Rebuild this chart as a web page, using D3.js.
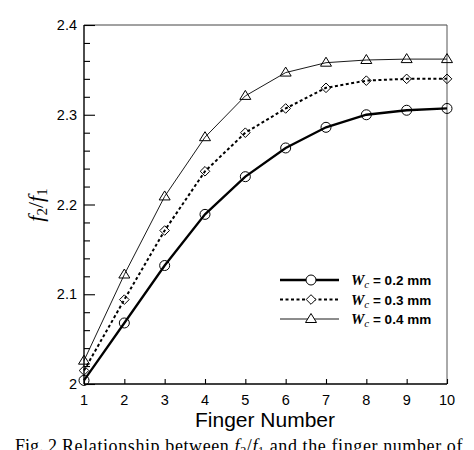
<!DOCTYPE html>
<html><head><meta charset="utf-8">
<script src="https://cdn.jsdelivr.net/npm/d3@7"></script>
<style>body{margin:0;background:#fff}svg{display:block}</style>
</head><body>
<svg id="c" width="474" height="450"></svg>
<script>
const fingers = [1,2,3,4,5,6,7,8,9,10];
const w02 = [2.004,2.068,2.132,2.189,2.231,2.263,2.286,2.300,2.305,2.307];
const w03 = [2.015,2.094,2.171,2.237,2.280,2.307,2.330,2.338,2.340,2.340];
const w04 = [2.026,2.122,2.209,2.275,2.321,2.347,2.358,2.361,2.362,2.362];
const seriesLabels = ["0.2 mm","0.3 mm","0.4 mm"];
const yTicks = [2,2.1,2.2,2.3,2.4];
const xTicks = [1,2,3,4,5,6,7,8,9,10];

const svg = d3.select("#c");
const x = d3.scaleLinear().domain([1,10]).range([84,447]);
const y = d3.scaleLinear().domain([2,2.4]).range([384,25]);

const styles = [
  {data:w02, width:2.3, dash:null, marker:"circle"},
  {data:w03, width:2, dash:"3,2.5", marker:"diamond"},
  {data:w04, width:0.9, dash:null, marker:"triangle"}
];

// frame (top/right)
svg.append("line").attr("x1",x(1)).attr("x2",x(10)).attr("y1",y(2.4)).attr("y2",y(2.4)).attr("stroke","#444").attr("stroke-width",1);
svg.append("line").attr("x1",x(10)).attr("x2",x(10)).attr("y1",y(2.4)).attr("y2",y(2)).attr("stroke","#555").attr("stroke-width",1);

// y axis
const yMinor = d3.range(2,2.4001,0.02).filter(v=>Math.abs(Math.round(v*10)-v*10)>1e-6);
const yAx = svg.append("g").attr("transform",`translate(${x(1)},0)`);
yAx.call(d3.axisRight(y).tickValues(yMinor).tickSize(6).tickFormat(""));
yAx.append("g").call(d3.axisRight(y).tickValues(yTicks).tickSize(11).tickFormat(""));
yAx.selectAll("path").remove();
yAx.selectAll("line").attr("stroke","#000").attr("stroke-width",1.1);
svg.append("line").attr("x1",x(1)).attr("x2",x(1)).attr("y1",y(2.4)).attr("y2",y(2)).attr("stroke","#000").attr("stroke-width",1.4);
svg.append("g").selectAll("text").data(yTicks).join("text")
  .attr("x",77).attr("y",d=>y(d)+5).attr("text-anchor","end")
  .attr("font-family","Liberation Sans, Arial, sans-serif").attr("font-size",14.5)
  .text(d=>d3.format("")(d));

// x axis
const xAx = svg.append("g").attr("transform",`translate(0,${y(2)})`);
xAx.call(d3.axisTop(x).tickValues(xTicks).tickSize(5).tickFormat(""));
xAx.selectAll("path").remove();
xAx.selectAll("line").attr("stroke","#000").attr("stroke-width",1.1);
svg.append("line").attr("x1",x(1)).attr("x2",x(10)).attr("y1",y(2)).attr("y2",y(2)).attr("stroke","#000").attr("stroke-width",1.4);
svg.append("g").selectAll("text").data(xTicks).join("text")
  .attr("x",d=>x(d)).attr("y",405).attr("text-anchor","middle")
  .attr("font-family","Liberation Sans, Arial, sans-serif").attr("font-size",14.5)
  .text(d=>d);

// axis titles
svg.append("text").attr("x",265).attr("y",427).attr("text-anchor","middle")
  .attr("font-family","Liberation Sans, Arial, sans-serif").attr("font-size",21)
  .text("Finger Number");

const yl = svg.append("text").attr("transform","translate(43,205) rotate(-90)")
  .attr("text-anchor","middle").attr("font-family","Liberation Serif, Times New Roman, serif").attr("font-size",22);
yl.append("tspan").attr("font-style","italic").text("f");
yl.append("tspan").attr("font-size",15).attr("dy",4).text("2");
yl.append("tspan").attr("dy",-4).text("/");
yl.append("tspan").attr("font-style","italic").text("f");
yl.append("tspan").attr("font-size",15).attr("dy",4).text("1");

// markers
function marker(g, type, cx, cy){
  if(type==="circle") g.append("circle").attr("cx",cx).attr("cy",cy).attr("r",5);
  else if(type==="diamond") g.append("path").attr("d",`M${cx},${cy-4.8}L${cx+4.8},${cy}L${cx},${cy+4.8}L${cx-4.8},${cy}Z`);
  else g.append("path").attr("d",`M${cx},${cy-5.5}L${cx+5.5},${cy+3.5}L${cx-5.5},${cy+3.5}Z`);
}

const line = d3.line().x((d,i)=>x(fingers[i])).y(d=>y(d));
styles.forEach(s=>{
  svg.append("path").datum(s.data).attr("d",line).attr("fill","none")
    .attr("stroke","#000").attr("stroke-width",s.width).attr("stroke-dasharray",s.dash);
  const g = svg.append("g").attr("fill","none").attr("stroke","#000").attr("stroke-width",1);
  s.data.forEach((v,i)=>marker(g,s.marker,x(fingers[i]),y(v)));
});

// legend
styles.forEach((s,i)=>{
  const ly = 280 + i*19.5;
  svg.append("line").attr("x1",280).attr("x2",339).attr("y1",ly).attr("y2",ly)
    .attr("stroke","#000").attr("stroke-width",s.width).attr("stroke-dasharray",s.dash);
  const g = svg.append("g").attr("fill","#fff").attr("stroke","#000").attr("stroke-width",1);
  marker(g,s.marker,311,ly);
  const t = svg.append("text").attr("x",351).attr("y",ly+5);
  t.append("tspan").attr("font-family","Liberation Serif, serif").attr("font-style","italic").attr("font-weight","bold").attr("font-size",15).text("W");
  t.append("tspan").attr("font-family","Liberation Serif, serif").attr("font-style","italic").attr("font-size",11).attr("dy",3).text("c");
  t.append("tspan").attr("font-family","Liberation Sans, Arial, sans-serif").attr("font-weight","bold").attr("font-size",13.5).attr("dy",-3).text(" = "+seriesLabels[i]);
});

// caption (cut off at bottom, as in the reference)
const cap = svg.append("text").attr("y",452).attr("font-family","Liberation Serif, Times New Roman, serif").attr("font-size",18);
cap.append("tspan").attr("x",15).text("Fig. 2");
const cap2 = cap.append("tspan").attr("x",62).attr("letter-spacing",0.6);
cap2.append("tspan").text("Relationship between ");
cap2.append("tspan").attr("font-style","italic").text("f");
cap2.append("tspan").attr("font-size",12).attr("dy",3).text("2");
cap2.append("tspan").attr("dy",-3).text("/");
cap2.append("tspan").attr("font-style","italic").text("f");
cap2.append("tspan").attr("font-size",12).attr("dy",3).text("1");
cap2.append("tspan").attr("dy",-3).text(" and the finger number of");
</script>
</body></html>
